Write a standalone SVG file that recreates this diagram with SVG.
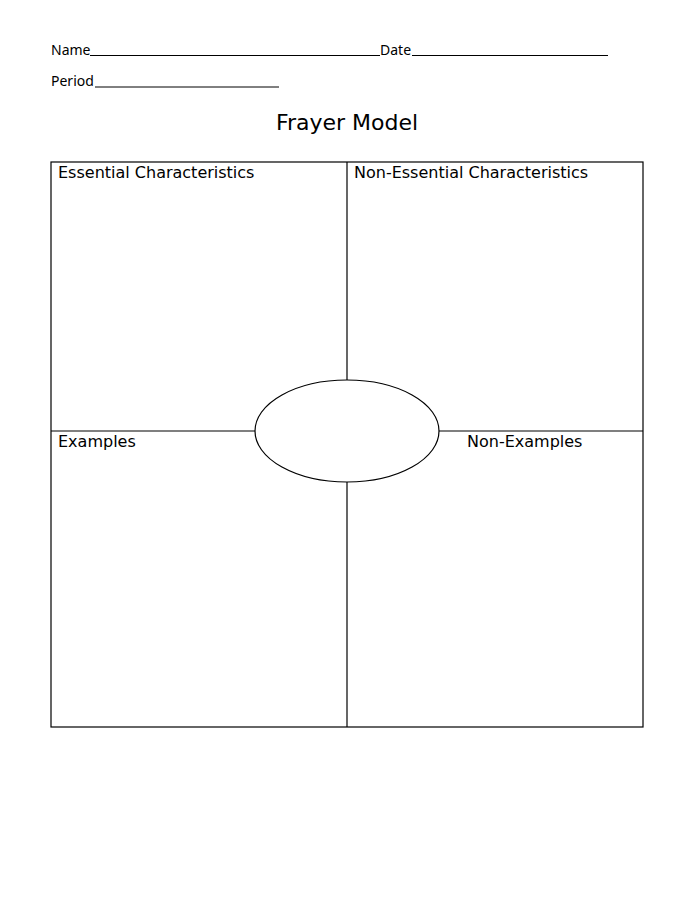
<svg xmlns="http://www.w3.org/2000/svg" width="695" height="900" viewBox="0 0 695 900">
<style>
.hdr{font-family:"Noto Sans","Open Sans",sans-serif;font-size:14px;fill:#000}
.lbl{font-family:"DejaVu Sans",Verdana,sans-serif;font-size:16px;fill:#000}
.ttl{font-family:"DejaVu Sans",Verdana,sans-serif;font-size:22px;fill:#000}
.ul{stroke:#000;stroke-width:1}
.ln{stroke:#000;stroke-width:1.2;fill:none}
</style>
<rect width="695" height="900" fill="#fff"/>
<g id="header">
<text class="hdr" x="51" y="55">Name</text>
<line class="ul" x1="90" y1="55.5" x2="380" y2="55.5"/>
<text class="hdr" x="380" y="55">Date</text>
<line class="ul" x1="412" y1="55.5" x2="608" y2="55.5"/>
<text class="hdr" x="51" y="86">Period</text>
<line class="ul" x1="95" y1="87" x2="279" y2="87"/>
</g>
<g id="title">
<text class="ttl" x="347" y="130" text-anchor="middle">Frayer Model</text>
</g>
<g id="connectors">
<line class="ln" x1="347" y1="162" x2="347" y2="727"/>
<line class="ln" x1="51" y1="431" x2="643" y2="431"/>
</g>
<g id="frame">
<rect class="ln" x="51" y="162" width="592" height="565"/>
</g>
<g id="q-essential">
<text class="lbl" x="58" y="178">Essential Characteristics</text>
</g>
<g id="q-nonessential">
<text class="lbl" x="354" y="178">Non-Essential Characteristics</text>
</g>
<g id="q-examples">
<text class="lbl" x="58" y="447">Examples</text>
</g>
<g id="q-nonexamples">
<text class="lbl" x="467" y="447">Non-Examples</text>
</g>
<g id="center">
<ellipse cx="347" cy="431" rx="92" ry="51" fill="#fff" stroke="#000" stroke-width="1.2"/>
</g>
</svg>
